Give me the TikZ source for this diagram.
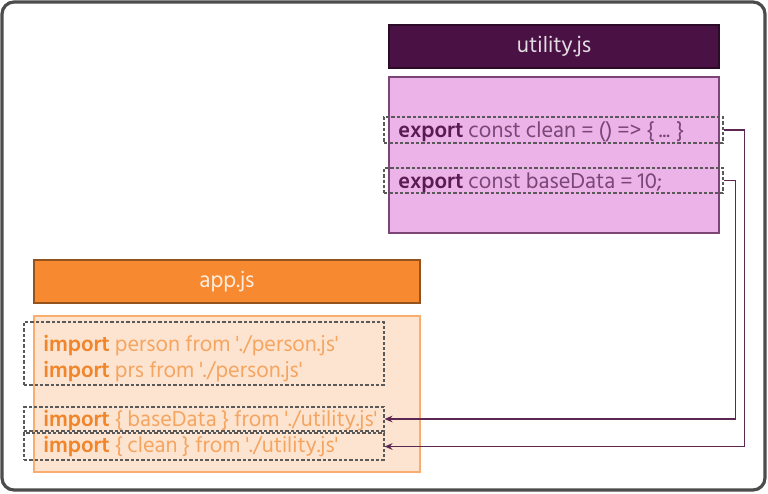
\documentclass[tikz,border=0pt]{standalone}
\usepackage{fontspec}
\setmainfont{Hind Siliguri}[Ligatures=TeXOff]
\usetikzlibrary{arrows.meta,fit,positioning}

\definecolor{utildark}{HTML}{4A1244}
\definecolor{utillight}{HTML}{EBB3E7}
\definecolor{utiltext}{HTML}{7B4576}
\definecolor{utilbold}{HTML}{5A1A52}
\definecolor{apporange}{HTML}{F78A30}
\definecolor{applight}{HTML}{FDE4D1}
\definecolor{apptext}{HTML}{F5A560}
\definecolor{appbold}{HTML}{F0852B}
\definecolor{linkcol}{HTML}{5C2852}

\begin{document}
\begin{tikzpicture} [
    x=0.75pt, y=-0.75pt,
    header/.style={draw=#1!60!black, line width=0.8pt, fill=#1, inner sep=0pt},
    title/.style={inner sep=0pt, font=\fontsize{17}{19}\selectfont, text=white!85!#1},
    body/.style={draw=#1, line width=0.8pt, inner sep=0pt},
    codebox/.style={draw=black!65, dashed, dash pattern=on 2.4pt off 1.6pt, line width=0.8pt, inner sep=0pt},
    code/.style={anchor=base west, inner sep=0pt, font=\fontsize{16.7}{18}\selectfont},
    link/.style={draw=linkcol, line width=1.4pt, -{Stealth[length=6pt,width=5pt]}}
  ]

\useasboundingbox (0,0) rectangle (768,493);
\draw[black!70, line width=2.4pt, rounded corners=9pt] (2,2) rectangle (765,490);

% utility.js
\node (utilhead) [header=utildark, fit={(389,25) (719,68)}] {};
\node [title=utildark] at (utilhead.center) {utility.js};
\node (utilbody) [body=utiltext, fill=utillight, fit={(389,77) (719,233)}] {};
\node (exclean) [codebox, fit={(384,117) (723,143)}] {};
\node (exbase) [codebox, fit={(384,168) (723,193)}] {};
\node [code, text=utiltext] at (398,137) {\textbf{\color{utilbold}export} const clean = () => \{ ... \}};
\node [code, text=utiltext] at (398,188) {\textbf{\color{utilbold}export} const baseData = 10;};

% app.js
\node (apphead) [header=apporange, fit={(34,260) (420,303)}] {};
\node [title=apporange] at (apphead.center) {app.js};
\node (appbody) [body=apporange!70, fill=applight, fit={(34,316) (420,472)}] {};
\node (imperson) [codebox, fit={(24,322) (384,385)}] {};
\node (imbase) [codebox, fit={(24,407) (384,431)}] {};
\node (imclean) [codebox, fit={(24,433) (384,460)}] {};
\node [code, text=apptext] at (43,351) {\textbf{\color{appbold}import} person from './person.js'};
\node [code, text=apptext] at (43,377) {\textbf{\color{appbold}import} prs from './person.js'};
\node [code, text=apptext] at (43,426) {\textbf{\color{appbold}import} \{ baseData \} from './utility.js'};
\node [code, text=apptext] at (43,452) {\textbf{\color{appbold}import} \{ clean \} from './utility.js'};

% exports to imports
\draw [link] (exclean.east) -- ++(21,0) |- (imclean.east);
\draw [link] (exbase.east) -- ++(12,0) |- (imbase.east);

\end{tikzpicture}
\end{document}
